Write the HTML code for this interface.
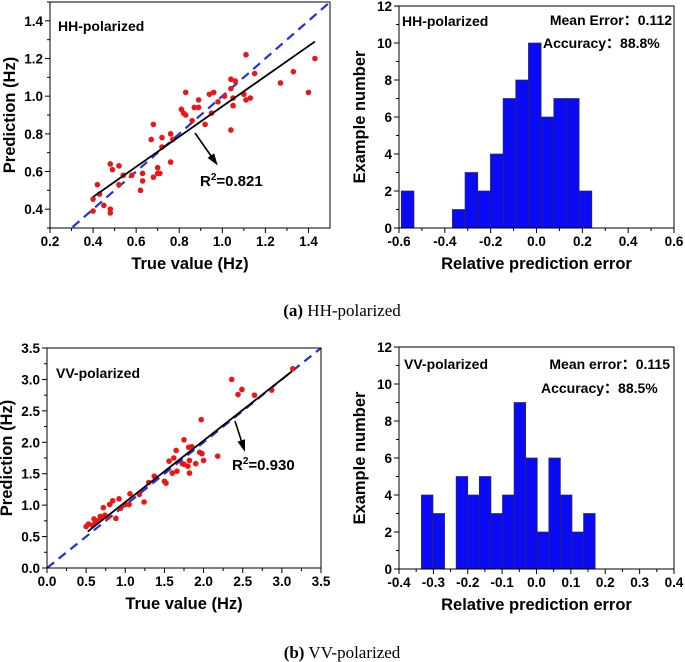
<!DOCTYPE html>
<html><head><meta charset="utf-8"><style>
body{margin:0;background:#fff;}
svg{display:block;font-family:"Liberation Sans",sans-serif;}
</style></head><body>
<svg id="fig" width="685" height="662" viewBox="0 0 685 662" xmlns="http://www.w3.org/2000/svg">
<text x="342" y="316" text-anchor="middle" font-family="Liberation Serif,serif" font-size="17"><tspan font-weight="bold">(a)</tspan> HH-polarized</text>
<text x="342" y="658" text-anchor="middle" font-family="Liberation Serif,serif" font-size="17"><tspan font-weight="bold">(b)</tspan> VV-polarized</text>
</svg>
<script>
// ---- data ----
const hhTrue=[0.40,0.40,0.42,0.43,0.45,0.48,0.48,0.48,0.49,0.52,0.52,0.54,0.58,0.62,0.63,0.63,0.67,0.68,0.68,0.70,0.70,0.71,0.72,0.72,0.76,0.76,0.77,0.81,0.82,0.83,0.83,0.86,0.87,0.89,0.89,0.92,0.94,0.96,0.95,0.98,1.01,1.04,1.04,1.04,1.05,1.05,1.06,1.10,1.11,1.11,1.13,1.15,1.27,1.33,1.40,1.43];
const hhPred=[0.453,0.39,0.53,0.48,0.42,0.64,0.40,0.38,0.61,0.63,0.53,0.58,0.58,0.50,0.59,0.55,0.77,0.85,0.57,0.62,0.59,0.59,0.78,0.73,0.80,0.65,0.77,0.93,0.91,1.02,0.90,0.87,0.94,0.94,0.98,0.85,1.01,1.02,0.91,0.97,1.00,1.09,1.04,0.82,0.99,0.95,1.08,1.01,0.98,1.22,0.99,1.12,1.07,1.13,1.02,1.20];
const hhFit=[[0.40,0.465],[1.43,1.29]];
const hhBinCenters=[-0.5624,-0.3394,-0.2841,-0.2288,-0.1734,-0.1181,-0.0628,-0.0075,0.0478,0.1031,0.1584,0.2137];
const hhCounts=[2,1,3,2,4,7,8,10,6,7,7,2];
const hhBinWidth=0.0553;
const vvTrue=[0.50,0.53,0.58,0.60,0.62,0.65,0.68,0.70,0.72,0.74,0.78,0.80,0.84,0.88,0.92,0.94,1.00,1.05,1.06,1.18,1.24,1.30,1.37,1.50,1.52,1.56,1.60,1.62,1.65,1.66,1.73,1.75,1.75,1.80,1.81,1.82,1.82,1.85,1.90,1.95,1.97,1.98,2.00,2.18,2.36,2.44,2.49,2.65,2.87,3.14];
const vvPred=[0.66,0.70,0.68,0.78,0.72,0.75,0.82,0.80,0.96,0.84,0.81,1.01,1.07,0.79,1.10,0.95,1.01,1.01,1.18,1.17,1.05,1.36,1.46,1.38,1.35,1.70,1.51,1.75,1.87,1.54,1.66,2.04,1.65,1.62,1.92,1.51,1.71,1.93,1.66,1.84,2.36,1.82,1.71,1.78,3.00,2.76,2.84,2.75,2.83,3.17];
const vvFit=[[0.52,0.58],[3.13,3.13]];
const vvBinCenters=[-0.318,-0.2843,-0.2169,-0.1832,-0.1495,-0.1158,-0.0821,-0.0484,-0.0147,0.019,0.0527,0.0864,0.1201,0.1538];
const vvCounts=[4,3,5,4,5,3,4,9,6,2,6,4,2,3];
const vvBinWidth=0.0337;
const hhXTicks=[0.2,0.4,0.6,0.8,1.0,1.2,1.4], hhYTicks=[0.4,0.6,0.8,1.0,1.2,1.4];
const vvXTicks=[0,0.5,1,1.5,2,2.5,3,3.5], vvYTicks=[0,0.5,1,1.5,2,2.5,3,3.5];
const hhHX=[-0.6,-0.4,-0.2,0,0.2,0.4,0.6], vvHX=[-0.4,-0.3,-0.2,-0.1,0,0.1,0.2,0.3,0.4], hY=[0,2,4,6,8,10,12];

const svg=document.getElementById('fig');
const NS='http://www.w3.org/2000/svg';
function el(tag,attrs,parent,text){const e=document.createElementNS(NS,tag);for(const k in attrs)e.setAttribute(k,attrs[k]);if(text!==undefined)e.textContent=text;(parent||svg).appendChild(e);return e;}
function scale(d0,d1,r0,r1){return v=>r0+(v-d0)/(d1-d0)*(r1-r0);}

function panel(o){
  const g=el('g',{});
  
  
  const X=scale(o.xd[0],o.xd[1],o.L,o.R), Y=scale(o.yd[0],o.yd[1],o.B,o.T);
  o.X=X;o.Y=Y;o.g=g;
  const xt=o.xt, yt=o.yt;
  xt.forEach((v,i)=>{
    const x=X(v);
    const t=el('line',{x1:x,x2:x,y1:o.B,y2:o.B+5,stroke:'#000','stroke-width':1},g);
    
    const l=el('text',{x:x,y:o.B+18,'text-anchor':'middle','font-size':13.5,'font-weight':'bold'},g,o.xfmt(v));
    
    if(i<xt.length-1){const m=X((v+xt[i+1])/2);el('line',{x1:m,x2:m,y1:o.B,y2:o.B+3,stroke:'#000','stroke-width':1},g);}
  });
  yt.forEach((v,i)=>{
    const y=Y(v);
    const t=el('line',{x1:o.L-5,x2:o.L,y1:y,y2:y,stroke:'#000','stroke-width':1},g);
    
    const l=el('text',{x:o.L-7,y:y+5,'text-anchor':'end','font-size':13.5,'font-weight':'bold'},g,o.yfmt(v));
    
    const nv=i<yt.length-1?yt[i+1]:null;
    if(nv!==null){const m=Y((v+nv)/2);el('line',{x1:o.L-3,x2:o.L,y1:m,y2:m,stroke:'#000','stroke-width':1},g);}
  });
  if(o.yd[0]<yt[0]){const m=Y(yt[0]-(yt[1]-yt[0])/2);el('line',{x1:o.L-3,x2:o.L,y1:m,y2:m,stroke:'#000','stroke-width':1},g);}
  if(o.yd[1]>yt[yt.length-1]){const m=Y(yt[yt.length-1]+(yt[1]-yt[0])/2);el('line',{x1:o.L-3,x2:o.L,y1:m,y2:m,stroke:'#000','stroke-width':1},g);}
  const xt2=el('text',{x:(o.L+o.R)/2,y:o.B+41,'text-anchor':'middle','font-size':16.5,'font-weight':'bold'},g,o.xTitle);
  
  const cy=(o.T+o.B)/2;
  const yt2=el('text',{x:o.yTitleX,y:cy,'text-anchor':'middle','font-size':16.5,'font-weight':'bold',transform:`rotate(-90 ${o.yTitleX} ${cy})`},g,o.yTitle);
  
  return g;
}
function frame(o){
  const f=el('rect',{x:o.L,y:o.T,width:o.R-o.L,height:o.B-o.T,fill:'none',stroke:'#000','stroke-width':1},o.g);
  
}
function scatter(o,xs,ys,fit,label,arrow){
  const X=o.X,Y=o.Y;
  const cp=el('clipPath',{id:o.name+'-clip'},o.g);
  el('rect',{x:o.L,y:o.T,width:o.R-o.L,height:o.B-o.T},cp);
  const d=el('line',{x1:X(o.xd[0]),y1:Y(o.xd[0]),x2:X(o.xd[1]),y2:Y(o.xd[1]),stroke:'#1f2ee8','stroke-width':2.2,'stroke-dasharray':'9,6','clip-path':`url(#${o.name}-clip)`},o.g);
  
  xs.forEach((v,i)=>{
    const c=el('circle',{cx:X(v),cy:Y(ys[i]),r:2.8,fill:'#f01414'},o.g);
    
  });
  const f=el('line',{x1:X(fit[0][0]),y1:Y(fit[0][1]),x2:X(fit[1][0]),y2:Y(fit[1][1]),stroke:'#000','stroke-width':1.8},o.g);
  
  const a=el('line',{x1:arrow[0],y1:arrow[1],x2:arrow[2],y2:arrow[3],stroke:'#000','stroke-width':1.6},o.g);
  
  const ang=Math.atan2(arrow[3]-arrow[1],arrow[2]-arrow[0]);
  const hx=arrow[2],hy=arrow[3],s=9,w=4;
  const p=[[hx+Math.cos(ang)*3,hy+Math.sin(ang)*3],[hx-Math.cos(ang)*s-Math.sin(ang)*w,hy-Math.sin(ang)*s+Math.cos(ang)*w],[hx-Math.cos(ang)*s+Math.sin(ang)*w,hy-Math.sin(ang)*s-Math.cos(ang)*w]];
  el('polygon',{points:p.map(q=>q.join(',')).join(' '),fill:'#000'},o.g);
  const t=el('text',{x:label[0],y:label[1],'font-size':15,'font-weight':'bold'},o.g);
  
  el('tspan',{},t,'R');el('tspan',{dy:-6,'font-size':10},t,'2');el('tspan',{dy:6},t,label[2]);
}
function hist(o,centers,counts,w){
  centers.forEach((c,i)=>{
    const x0=o.X(c-w/2),x1=o.X(c+w/2),y=o.Y(counts[i]);
    const r=el('rect',{x:x0,y:y,width:x1-x0,height:o.B-y,fill:'#0a0af5',stroke:'#2a2a55','stroke-width':0.7},o.g);
    
  });
}
function txt(o,x,y,s,name,anchor){const t=el('text',{x:x,y:y,'font-size':14,'font-weight':'bold','text-anchor':anchor||'start'},o.g,s);}

const f1=v=>v.toFixed(1), f0=v=>String(v);
const a1={name:'hh-scatter',L:50,R:330,T:2,B:228,xd:[0.2,1.5],yd:[0.3,1.5],xt:hhXTicks,yt:hhYTicks,xfmt:f1,yfmt:f1,xTitle:'True value (Hz)',yTitle:'Prediction (Hz)',yTitleX:15};
panel(a1);
scatter(a1,hhTrue,hhPred,hhFit,[200,186,'=0.821'],[195,133,216,163]);
txt(a1,58,31,'HH-polarized','panel-label');
frame(a1);
const a2={name:'hh-histogram',L:399,R:674,T:6,B:228,xd:[-0.6,0.6],yd:[0,12],xt:hhHX,yt:hY,xfmt:f1,yfmt:f0,xTitle:'Relative prediction error',yTitle:'Example number',yTitleX:365};
panel(a2);
hist(a2,hhBinCenters,hhCounts,hhBinWidth);
txt(a2,402,26,'HH-polarized','panel-label');
txt(a2,672,25,'Mean Error：0.112','mean-error-label','end');
txt(a2,543,48,'Accuracy：88.8%','accuracy-label');
frame(a2);
const b1={name:'vv-scatter',L:47,R:321,T:348,B:568,xd:[0,3.5],yd:[0,3.5],xt:vvXTicks,yt:vvYTicks,xfmt:f1,yfmt:f1,xTitle:'True value (Hz)',yTitle:'Prediction (Hz)',yTitleX:12};
panel(b1);
scatter(b1,vvTrue,vvPred,vvFit,[232,470,'=0.930'],[235,421,244,449]);
txt(b1,56,378,'VV-polarized','panel-label');
frame(b1);
const b2={name:'vv-histogram',L:399,R:674,T:347,B:569,xd:[-0.4,0.4],yd:[0,12],xt:vvHX,yt:hY,xfmt:f1,yfmt:f0,xTitle:'Relative prediction error',yTitle:'Example number',yTitleX:365};
panel(b2);
hist(b2,vvBinCenters,vvCounts,vvBinWidth);
txt(b2,404,369,'VV-polarized','panel-label');
txt(b2,670,369,'Mean error：0.115','mean-error-label','end');
txt(b2,541,393,'Accuracy：88.5%','accuracy-label');
frame(b2);
</script>
</body></html>
